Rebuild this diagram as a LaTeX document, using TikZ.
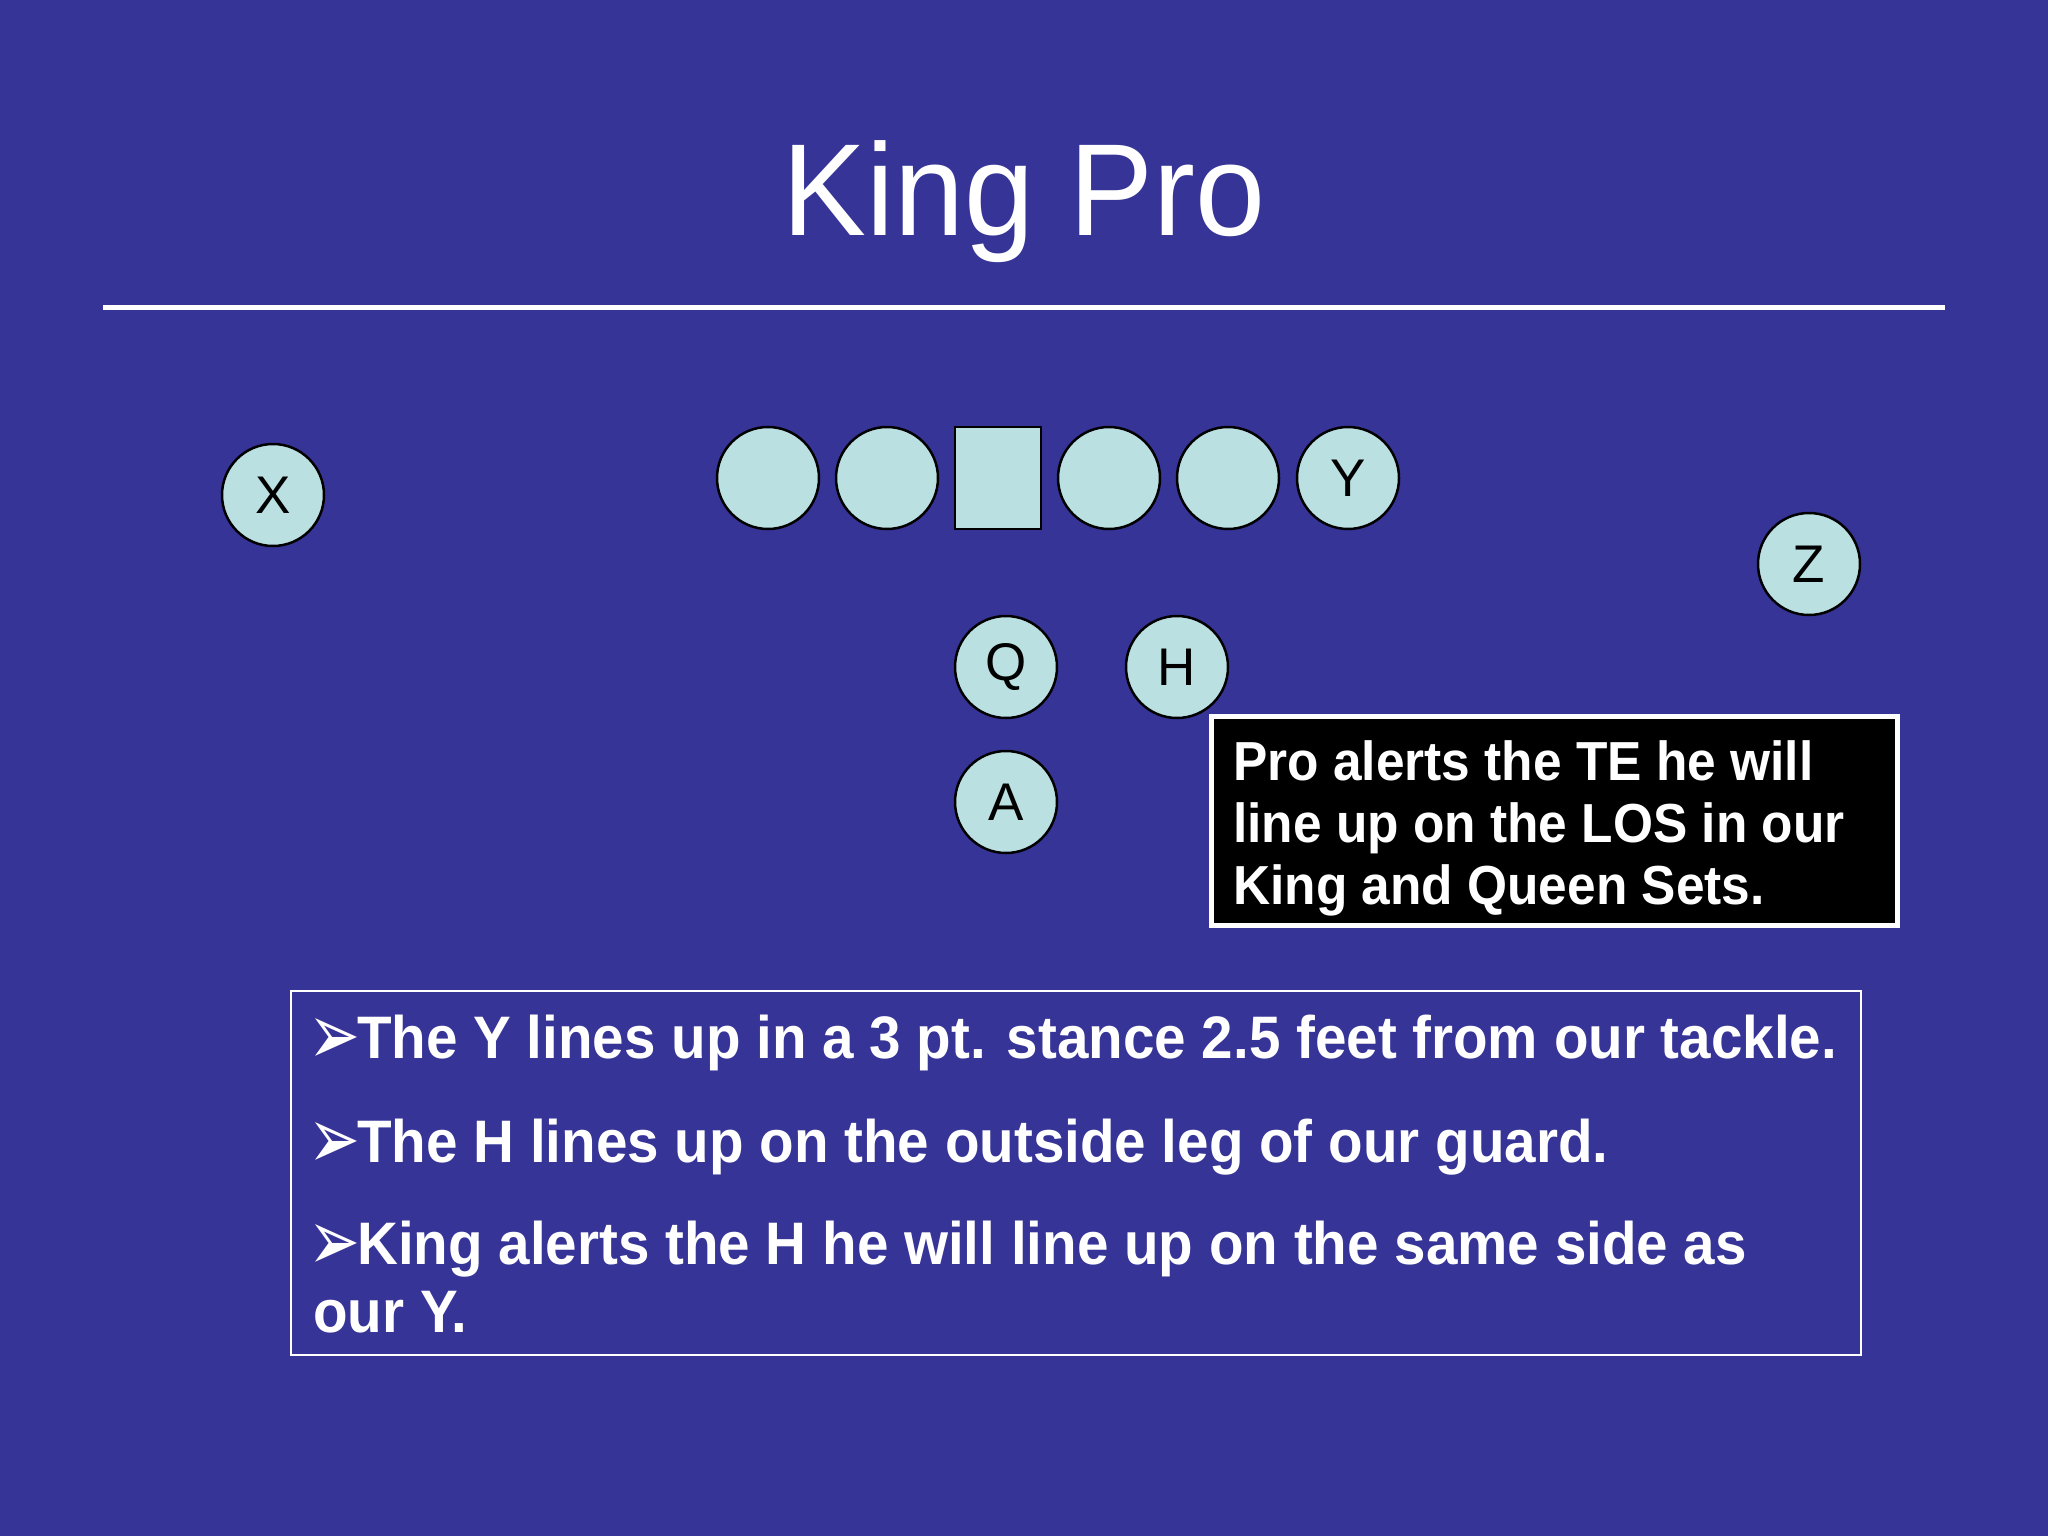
\documentclass[tikz,border=0pt]{standalone}
\usepackage{fontspec}
\setmainfont{Liberation Sans}
\newfontfamily\dvs{DejaVu Sans}
\newfontfamily\narrowb[FakeStretch=0.935]{Liberation Sans}
\newfontfamily\narrowc[FakeStretch=0.943]{Liberation Sans}
\newfontfamily\narrowt[FakeStretch=0.96]{Liberation Sans}
\definecolor{bgblue}{HTML}{363497}
\definecolor{plfill}{HTML}{BAE0E2}
\newcommand{\bul}{\makebox[44pt][l]{\hspace{-5pt}\raisebox{-6pt}{\resizebox{52pt}{46pt}{\dvs\mdseries ➢}}}}
\tikzset{
  player/.style={circle, draw=black, line width=2.5pt, fill=plfill, minimum size=102pt, inner sep=0pt, font=\fontsize{53}{60}\selectfont},
  center/.style={rectangle, draw=black, line width=2.5pt, fill=plfill, minimum width=86pt, minimum height=102pt, inner sep=0pt},
  boxline/.style={anchor=base west, inner sep=0pt, text=white, font=\narrowb\fontsize{55}{62}\selectfont\bfseries},
  bulline/.style={anchor=base west, inner sep=0pt, text=white, font=\narrowc\fontsize{60}{68}\selectfont\bfseries},
}
\begin{document}
\begin{tikzpicture}[x=1pt,y=-1pt]
\fill[bgblue] (0,0) rectangle (2048,1536);
\useasboundingbox (0,0) rectangle (2048,1536);
% title
\node[anchor=base, inner sep=0pt, text=white, font=\narrowt\fontsize{131}{140}\selectfont] (title) at (1024,235) {King Pro};
\coordinate (ruleL) at (103,307);
\coordinate (ruleR) at (1945,307);
\draw[white, line width=5pt] (ruleL) -- (ruleR);
% players
\node[player] (x) at (273,495) {X};
\node[player] (lt) at (768,478) {};
\node[player] (lg) at (887,478) {};
\node[center] (c) at (998,478) {};
\node[player] (rg) at (1109,478) {};
\node[player] (rt) at (1228,478) {};
\node[player] (y) at (1348,478) {Y};
\node[player] (z) at (1809,564) {Z};
\node[player] (q) at (1006,667) {Q};
\node[player] (h) at (1177,667) {H};
\node[player] (a) at (1006,802) {A};
% black note box
\node[rectangle, draw=white, fill=black, line width=5pt, minimum width=686pt, minimum height=209pt, anchor=north west] (note) at (1209,714) {};
\node[boxline] (n1) at (1233,780) {Pro alerts the TE he will};
\node[boxline] (n2) at (1233,842) {line up on the LOS in our};
\node[boxline] (n3) at (1233,904) {King and Queen Sets.};
% bottom bullet box
\node[rectangle, draw=white, line width=2pt, minimum width=1570pt, minimum height=364pt, anchor=north west] (bul) at (290,990) {};
\node[bulline] (b1) at (313,1058) {\bul The Y lines up in a 3 pt. stance 2.5 feet from our tackle.};
\node[bulline] (b2) at (313,1162) {\bul The H lines up on the outside leg of our guard.};
\node[bulline] (b3) at (313,1264) {\bul King alerts the H he will line up on the same side as};
\node[bulline] (b4) at (313,1332) {our Y.};
\end{tikzpicture}
\end{document}
